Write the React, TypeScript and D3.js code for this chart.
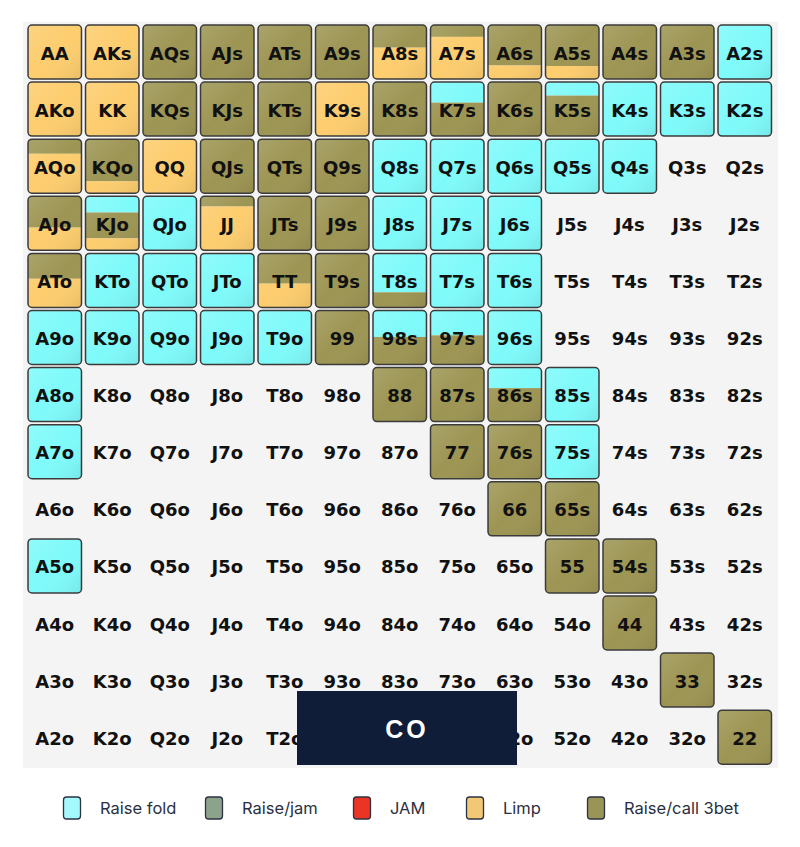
import React from 'react';
import * as d3 from 'd3';

const ranks = ['A', 'K', 'Q', 'J', 'T', '9', '8', '7', '6', '5', '4', '3', '2'];

const actions = ['Raise fold', 'Raise/jam', 'JAM', 'Limp', 'Raise/call 3bet'];
const cellColors: Record<string, string> = {
  'Raise fold': '#7ffafa',
  'Raise/jam': '#8aa389',
  'JAM': '#e8392a',
  'Limp': '#fdcd6e',
  'Raise/call 3bet': '#9d9553',
};
const legendColors = ['#a3f9fb', '#8ba38a', '#ec3424', '#f2c877', '#9a9456'];

// frequency of each action per hand (top → bottom stacking order below)
const raiseFold: [string, number][] = [
  ['A2s', 1], ['K7s', 0.38], ['K5s', 0.25], ['K4s', 1], ['K3s', 1], ['K2s', 1],
  ['Q8s', 1], ['Q7s', 1], ['Q6s', 1], ['Q5s', 1], ['Q4s', 1],
  ['KJo', 0.3], ['QJo', 1], ['J8s', 1], ['J7s', 1], ['J6s', 1],
  ['KTo', 1], ['QTo', 1], ['JTo', 1], ['T8s', 0.72], ['T7s', 1], ['T6s', 1],
  ['A9o', 1], ['K9o', 1], ['Q9o', 1], ['J9o', 1], ['T9o', 1], ['98s', 0.49], ['97s', 0.46], ['96s', 1],
  ['A8o', 1], ['86s', 0.38], ['85s', 1], ['A7o', 1], ['75s', 1], ['A5o', 1],
];
const raiseJam: [string, number][] = [];
const jam: [string, number][] = [];
const raiseCall3bet: [string, number][] = [
  ['AQs', 1], ['AJs', 1], ['ATs', 1], ['A9s', 1], ['A8s', 0.42], ['A7s', 0.22], ['A6s', 0.75], ['A5s', 0.76], ['A4s', 1], ['A3s', 1],
  ['KQs', 1], ['KJs', 1], ['KTs', 1], ['K8s', 1], ['K7s', 0.62], ['K6s', 1], ['K5s', 0.75],
  ['AQo', 0.27], ['KQo', 0.78], ['QJs', 1], ['QTs', 1], ['Q9s', 1],
  ['AJo', 0.58], ['KJo', 0.48], ['JJ', 0.19], ['JTs', 1], ['J9s', 1],
  ['ATo', 0.47], ['TT', 0.56], ['T9s', 1], ['T8s', 0.28],
  ['99', 1], ['98s', 0.51], ['97s', 0.54],
  ['88', 1], ['87s', 1], ['86s', 0.62],
  ['77', 1], ['76s', 1], ['66', 1], ['65s', 1], ['55', 1], ['54s', 1], ['44', 1], ['33', 1], ['22', 1],
];
const limp: [string, number][] = [
  ['AA', 1], ['AKs', 1], ['A8s', 0.58], ['A7s', 0.78], ['A6s', 0.25], ['A5s', 0.24],
  ['AKo', 1], ['KK', 1], ['K9s', 1],
  ['AQo', 0.73], ['KQo', 0.22], ['QQ', 1],
  ['AJo', 0.42], ['KJo', 0.22], ['JJ', 0.81],
  ['ATo', 0.53], ['TT', 0.44],
];

const positionLabel = 'CO';

const stackKeys = ['Raise fold', 'Raise/jam', 'JAM', 'Raise/call 3bet', 'Limp'];
const stackSources: Record<string, [string, number][]> = {
  'Raise fold': raiseFold,
  'Raise/jam': raiseJam,
  'JAM': jam,
  'Raise/call 3bet': raiseCall3bet,
  'Limp': limp,
};

const W = 800;
const H = 847;

function handName(r: number, c: number) {
  if (r === c) return ranks[r] + ranks[c];
  if (r < c) return ranks[r] + ranks[c] + 's';
  return ranks[c] + ranks[r] + 'o';
}

export default function App() {
  const x = d3.scaleBand<string>().domain(ranks).range([26, 773.5]).paddingInner(0.07).paddingOuter(0.035);
  const y = d3.scaleBand<string>().domain(ranks).range([23.45, 765.75]).paddingInner(0.054).paddingOuter(0.027);

  const hands: any[] = [];
  ranks.forEach((rr, r) => {
    ranks.forEach((cc, c) => {
      const name = handName(r, c);
      const o: any = { name, row: rr, col: cc };
      stackKeys.forEach((k) => {
        const f = stackSources[k].find((d) => d[0] === name);
        o[k] = f ? f[1] : 0;
      });
      hands.push(o);
    });
  });
  const series = d3.stack<any>().keys(stackKeys)(hands);

  const bw = x.bandwidth();
  const bh = y.bandwidth();

  const legendX = [63, 205, 353, 466, 587];

  return (
    <svg width={W} height={H} style={{ position: 'absolute', left: 0, top: 0, background: '#ffffff' }}>
      <defs>
        <linearGradient id="shine" x1="0" y1="0" x2="1" y2="1">
          <stop offset="0" stopColor="#ffffff" stopOpacity={0.14} />
          <stop offset="0.5" stopColor="#ffffff" stopOpacity={0} />
          <stop offset="1" stopColor="#000000" stopOpacity={0.08} />
        </linearGradient>
        {hands.map((h, i) => (
          <clipPath id={`clip${i}`} key={i}>
            <rect x={x(h.col)} y={y(h.row)} width={bw} height={bh} rx={4} />
          </clipPath>
        ))}
      </defs>
      <rect x={0} y={0} width={W} height={H} fill="#ffffff" />
      <rect x={23} y={22} width={755} height={746} fill="#f4f4f4" />
      {hands.map((h, i) => {
        const x0 = x(h.col)!;
        const y0 = y(h.row)!;
        const yl = d3.scaleLinear().domain([0, 1]).range([y0, y0 + bh]);
        const total = stackKeys.reduce((s, k) => s + h[k], 0);
        return (
          <g key={h.name}>
            {total > 0 && (
              <g>
                <g clipPath={`url(#clip${i})`}>
                  {series.map((s) => {
                    const seg = s[i];
                    if (seg[1] - seg[0] <= 0) return null;
                    return (
                      <rect
                        key={s.key}
                        x={x0}
                        y={yl(seg[0])}
                        width={bw}
                        height={yl(seg[1]) - yl(seg[0])}
                        fill={cellColors[s.key]}
                      />
                    );
                  })}
                  <rect x={x0} y={y0} width={bw} height={bh} fill="url(#shine)" />
                </g>
                <rect x={x0} y={y0} width={bw} height={bh} rx={4} fill="none" stroke="#3b3b3b" strokeWidth={1.5} />
              </g>
            )}
            <text
              x={x0 + bw / 2}
              y={y0 + bh / 2 + 1}
              textAnchor="middle"
              dominantBaseline="central"
              fontFamily="'DejaVu Sans', Verdana, sans-serif"
              fontWeight="bold"
              fontSize={18}
              fill="#111111"
            >
              {h.name}
            </text>
          </g>
        );
      })}
      <g>
        <rect x={297} y={691} width={220} height={74} fill="#0f1d38" />
        <text
          x={407}
          y={729}
          textAnchor="middle"
          dominantBaseline="central"
          fontFamily="'Liberation Sans', Arial, sans-serif"
          fontWeight="bold"
          fontSize={25}
          letterSpacing={3}
          fill="#ffffff"
        >
          {positionLabel}
        </text>
      </g>
      <g>
        {actions.map((a, i) => (
          <g key={a} transform={`translate(${legendX[i]},0)`}>
            <rect x={0.5} y={797} width={17} height={22} rx={3} fill={legendColors[i]} stroke="#2b3242" strokeWidth={1.3} />
            <text x={37} y={808} dominantBaseline="central" fontFamily="Inter, sans-serif" fontSize={16.5} fill="#2a3042">
              {a}
            </text>
          </g>
        ))}
      </g>
    </svg>
  );
}
